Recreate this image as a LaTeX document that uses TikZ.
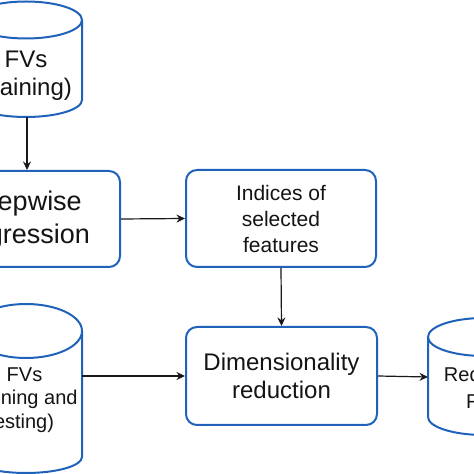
\documentclass[tikz,border=0pt]{standalone}
\usepackage{fontspec}
\setmainfont{Liberation Sans}
\usetikzlibrary{arrows.meta}
\definecolor{boxblue}{RGB}{32,98,186}
\definecolor{txt}{RGB}{20,20,20}
\tikzset{
  procbox/.style={draw=boxblue, line width=2pt, rounded corners=11pt, fill=white, align=center, text=txt, inner sep=0pt},
  cylline/.style={draw=boxblue, line width=2pt, fill=white},
  cyltext/.style={align=center, text=txt, inner sep=0pt},
  flow/.style={draw=black!90, line width=1.2pt, -{Stealth[length=8.5pt,width=8pt]}}
}
\newcommand\mycyl[6]{% cx, rx, ytop, ry1, ybot, ry2
  \draw[cylline] ({#1-#2},#3) -- ({#1-#2},#5) arc[start angle=180,end angle=360,x radius=#2,y radius=#6] -- ({#1+#2},#3);
  \draw[cylline] (#1,#3) ellipse[x radius=#2,y radius=#4];
}
\begin{document}
\begin{tikzpicture}[x=1pt,y=1pt]
\useasboundingbox (0,0) rectangle (474,474);
\clip (0,0) rectangle (474,474);
% cylinders
\mycyl{26}{56}{454}{18.5}{374}{17}
\node[cyltext, font=\fontsize{24}{28}\selectfont] (fvtrain) at (21,398) {\hspace*{10pt}FVs\\(Training)};
\coordinate (fvtrainbot) at (27,357);
\mycyl{26}{56}{143}{27}{17}{16}
\node[cyltext, font=\fontsize{20}{23.5}\selectfont] (fvall) at (19,74) {\hspace*{11pt}FVs\\(Training and\\Testing)};
\coordinate (fvallright) at (82,98);
\mycyl{484}{56}{137}{19}{57}{18}
\node[cyltext, font=\fontsize{20}{27}\selectfont] (fvred) at (484,86) {Reduced\\FVs};
\coordinate (fvredleft) at (428,97);
% boxes
\node[procbox, minimum width=184pt, minimum height=96pt] (step) at (28,255) {};
\node[cyltext, font=\fontsize{27}{33}\selectfont] (steptext) at (27,254) {Stepwise\\regression};
\node[procbox, minimum width=190pt, minimum height=97pt, font=\fontsize{21}{26}\selectfont] (idx) at (281,255.5) {Indices of\\selected\\features};
\node[procbox, minimum width=191pt, minimum height=98pt, font=\fontsize{24}{28}\selectfont] (dim) at (281.5,98) {Dimensionality\\reduction};
% connectors
\draw[flow] (fvtrainbot) -- (fvtrainbot |- step.north);
\draw[flow] (step.east) -- (idx.west);
\draw[flow] (idx.south) -- (dim.north);
\draw[flow] (fvallright) -- (fvallright -| dim.west);
\draw[flow] (dim.east) -- (fvredleft);
\end{tikzpicture}
\end{document}
